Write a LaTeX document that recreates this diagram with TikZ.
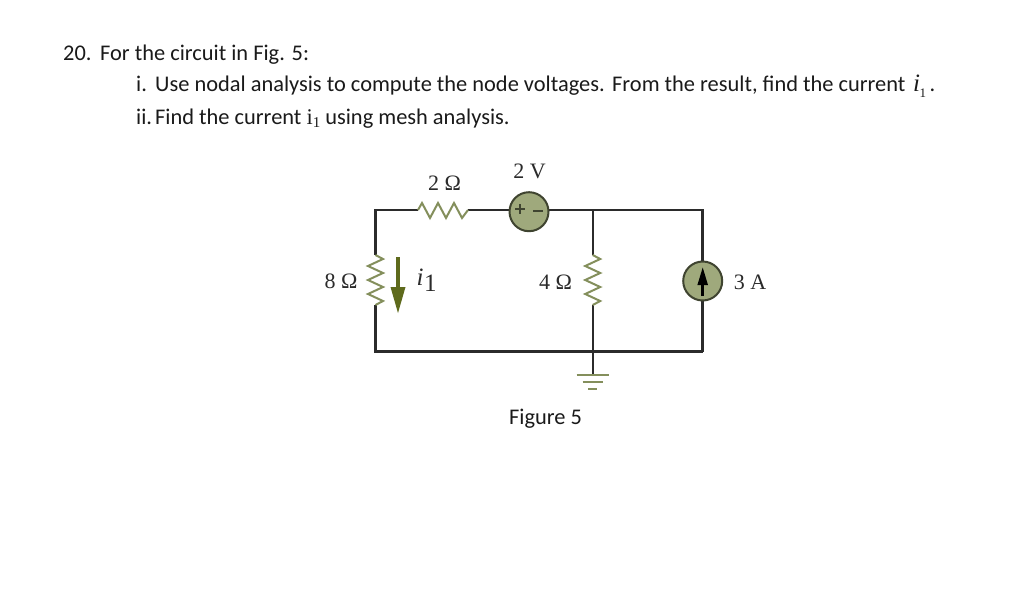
\documentclass[tikz,border=0pt]{standalone}
\usepackage{fontspec}
\setmainfont{Carlito}
\newfontfamily\timesf{Liberation Serif}
\usetikzlibrary{arrows.meta}
\definecolor{wirec}{HTML}{2B2B2B}
\definecolor{olivefill}{HTML}{9FA97C}
\definecolor{olivestroke}{HTML}{3F4430}
\definecolor{resc}{HTML}{848F5C}
\definecolor{arrowc}{HTML}{5E6A1C}
\definecolor{textc}{HTML}{1A1A1A}
\tikzset{
  wire/.style={draw=wirec,line width=2.2pt,line join=miter},
  resist/.style={draw=resc,line width=2pt,line join=miter},
  srcbox/.style={circle,draw=olivestroke,line width=2pt,fill=olivefill,minimum size=39pt,inner sep=0pt},
  bodytext/.style={anchor=base west,inner sep=0pt,font=\fontsize{22.4}{26}\selectfont,text=textc},
  circtext/.style={inner sep=0pt,text=wirec,font=\timesf\fontsize{22}{24}\selectfont},
  gnd/.style={draw=resc,line width=2pt}
}
\begin{document}
\begin{tikzpicture}[x=1pt,y=-1pt]
\useasboundingbox (0,0) rectangle (1024,592);
\fill[white] (0,0) rectangle (1024,592);
% text
\node[bodytext] (t1a) at (63,60) {20.};
\node[bodytext] (t1b) at (100,60) {For the circuit in Fig. 5:};
\node[bodytext] (t2a) at (136,91.5) {i.};
\node[bodytext] (t2b) at (155,91.5) {Use nodal analysis to compute the node voltages.};
\node[bodytext] (t2c) at (612,91.5) {From the result, find the current};
\node[bodytext] (t2d) at (913,91.5) {{\timesf\itshape\fontsize{25}{25}\selectfont i}\kern-0.5pt\raisebox{-6pt}{\timesf\fontsize{13}{13}\selectfont 1}\kern3.5pt.};
\node[bodytext] (t3a) at (136,124.5) {ii.};
\node[bodytext] (t3b) at (155,124.5) {Find the current {\timesf i}\raisebox{-3pt}{\timesf\fontsize{15}{15}\selectfont 1} using mesh analysis.};
\node[bodytext] (figl) at (509,424) {Figure 5};
% junctions and corners
\coordinate (tl) at (375.5,210);
\coordinate (bl) at (375.5,351.5);
\coordinate (tm) at (592.7,210);
\coordinate (bm) at (592.7,351.5);
\coordinate (tr) at (702.5,210);
\coordinate (br) at (702.5,351.5);
\coordinate (rtl) at (418,210);
\coordinate (rtr) at (468,210);
\coordinate (rll) at (375.5,255);
\coordinate (rlb) at (375.5,305);
\coordinate (rmt) at (592.7,255);
\coordinate (rmb) at (592.7,305);
\coordinate (gt) at (592.7,375);
% wires
\draw[wire] (rll) -- (tl) -- (rtl);
\draw[wire] (rlb) -- (bl) -- (br);
\draw[wire] (rmt) -- (tm);
\draw[wire] (rmb) -- (gt);
\draw[wire] (rtr) -- (tm) -- (tr) -- (br);
% sources
\node[srcbox] (vs) at (529,211.7) {};
\node[srcbox] (is) at (702.7,281) {};
% + and -
\draw[draw=olivestroke,line width=1.2pt] (515,209) -- (525,209) (520,204) -- (520,214);
\draw[draw=olivestroke,line width=1.6pt] (533,211) -- (543,211);
% current source arrow
\draw[black,line width=2.6pt] (702.7,296) -- (702.7,280);
\fill[black] (702.7,267.5) -- (708,285) -- (697.4,285) -- cycle;
% resistors
\draw[resist] (rtl) -- ++(4,-7) -- ++(8,15) -- ++(8,-15) -- ++(8,15) -- ++(8,-15) -- ++(8,15) -- (rtr);
\draw[resist] (rll) -- ++(7.5,4) -- ++(-15,7) -- ++(15,7) -- ++(-15,7) -- ++(15,7) -- ++(-15,7) -- ++(15,7) -- (rlb);
\draw[resist] (rmt) -- ++(7.5,4) -- ++(-15,7) -- ++(15,7) -- ++(-15,7) -- ++(15,7) -- ++(-15,7) -- ++(15,7) -- (rmb);
% ground
\draw[gnd] (gt) ++(-16,0) -- ++(32,0);
\draw[gnd] (gt) ++(-10,7) -- ++(20,0);
\draw[gnd] (gt) ++(-4.5,14) -- ++(9,0);
% i1 arrow
\coordinate (ia) at (398,257);
\coordinate (ib) at (398,313);
\draw[arrowc,line width=4.8pt] (ia) -- (398,288);
\fill[arrowc] (ib) -- (405.5,287) -- (390.5,287) -- cycle;
% labels
\node[circtext] (l2o) at (444.5,183) {2 Ω};
\node[circtext] (l2v) at (529.5,171.5) {2 V};
\node[circtext] (l8o) at (341,281) {8 Ω};
\node[circtext] (l4o) at (555.5,282) {4 Ω};
\node[circtext] (l3a) at (750,282) {3 A};
\node[circtext,anchor=base west,font=\timesf\fontsize{25}{27}\selectfont] (li) at (416.5,285) {\itshape i\kern0.5pt\raisebox{-6pt}{\upshape 1}};
\end{tikzpicture}
\end{document}
